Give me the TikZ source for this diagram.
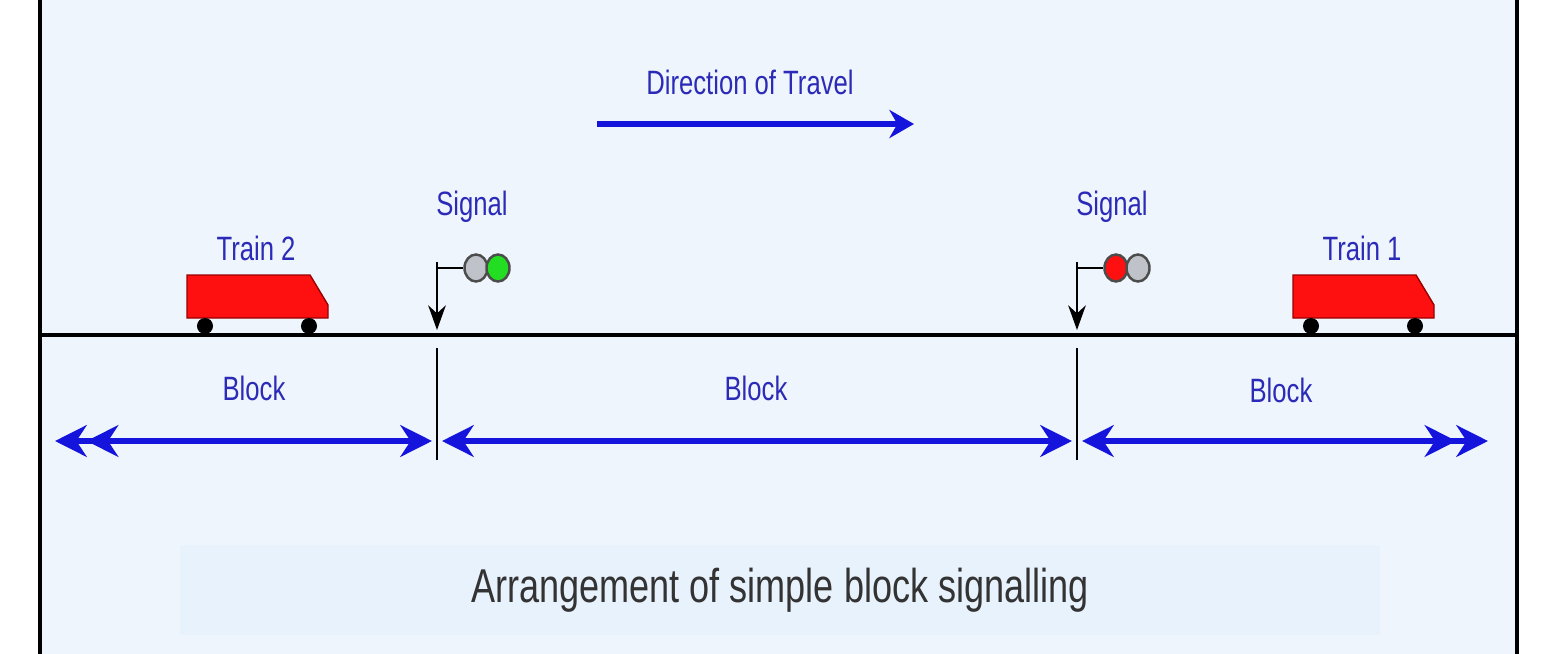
\documentclass[tikz,border=0pt]{standalone}
\usepackage{fontspec}
\setmainfont{Liberation Sans}[FakeStretch=0.76]
\usetikzlibrary{arrows.meta}
\definecolor{bg}{HTML}{EEF5FD}
\definecolor{capbg}{HTML}{E8F2FC}
\definecolor{lbl}{HTML}{2B2BB8}
\definecolor{arr}{RGB}{20,20,220}
\definecolor{sgray}{HTML}{BFC2C8}
\definecolor{sgreen}{HTML}{22DD22}
\definecolor{tred}{HTML}{FF1010}
\tikzset{
  lab/.style={text=lbl,font=\fontsize{9.6pt}{10pt}\selectfont,inner sep=0},
  blk/.style={draw=arr,line width=1.6pt},
  lamp/.style={draw=black!70,line width=0.7pt,ellipse,minimum width=0.23cm,minimum height=0.27cm,inner sep=0},
  wheel/.style={fill=black,circle,minimum size=0.16cm,inner sep=0},
}
\usetikzlibrary{shapes.geometric}
\begin{document}
\begin{tikzpicture}[x=0.01cm,y=-0.01cm]
\useasboundingbox (0,0) rectangle (1547,654);
\fill[white] (0,0) rectangle (1547,654);
\fill[bg] (40,0) rectangle (1517,654);
\fill[capbg] (180,545) rectangle (1380,635);
\draw[line width=1pt] (40,0) -- (40,654) (1517,0) -- (1517,654);
% track
\coordinate (tl) at (40,335); \coordinate (tr) at (1517,335);
\draw[line width=1.2pt] (tl) -- (tr);
% direction
\node[lab] (dir) at (750,82) {Direction of Travel};
\coordinate (d1) at (597,124); \coordinate (d2) at (914,124);
\draw[blk,-{Stealth[length=7pt,width=8pt]}] (d1) -- (d2);
% trains
\foreach \x/\n/\t in {187/b/Train 2,1293/a/Train 1}{
  \fill[tred,draw=red!60!black,line width=0.4pt] (\x,275) -- (\x+123,275) -- (\x+141,305) -- (\x+141,318) -- (\x,318) -- cycle;
  \node[wheel] (w1\n) at (\x+18,326) {};
  \node[wheel] (w2\n) at (\x+122,326) {};
  \node[lab] (tt\n) at (\x+69,248) {\t};
}
% signals
\foreach \x/\n/\ca/\cb in {437/a/sgray/sgreen,1077/b/tred/sgray}{
  \coordinate (top\n) at (\x,262);
  \coordinate (bot\n) at (\x,330);
  \draw[line width=0.8pt,-{Stealth[length=7pt,width=5pt]}] (top\n) -- (bot\n);
  \node[lamp,fill=\ca] (l1\n) at (\x+39,268) {};
  \node[lamp,fill=\cb] (l2\n) at (\x+61,268) {};
  \draw[line width=0.8pt] (\x,268) -- (l1\n);
  \node[lab] (sg\n) at (\x+35,207) {Signal};
  \coordinate (v1\n) at (\x,348); \coordinate (v2\n) at (\x,460);
  \draw[line width=0.5pt] (v1\n) -- (v2\n);
}
% block arrows
\coordinate (b0) at (55,441); \coordinate (b1) at (432,441);
\coordinate (b2) at (442,441); \coordinate (b3) at (1072,441);
\coordinate (b4) at (1082,441); \coordinate (b5) at (1488,441);
\draw[blk,{Stealth[length=9pt,width=9pt]Stealth[length=9pt,width=9pt]}-{Stealth[length=9pt,width=9pt]}] (b0) -- (b1);
\draw[blk,{Stealth[length=9pt,width=9pt]}-{Stealth[length=9pt,width=9pt]}] (b2) -- (b3);
\draw[blk,{Stealth[length=9pt,width=9pt]}-{Stealth[length=9pt,width=9pt]Stealth[length=9pt,width=9pt]}] (b4) -- (b5);
\node[lab] (k1) at (254,388) {Block};
\node[lab] (k2) at (756,388) {Block};
\node[lab] (k3) at (1281,390) {Block};
\node[text=black!80,font=\fontsize{13.5pt}{14pt}\selectfont,inner sep=0] (cap) at (780,590) {Arrangement of simple block signalling};
\end{tikzpicture}
\end{document}
